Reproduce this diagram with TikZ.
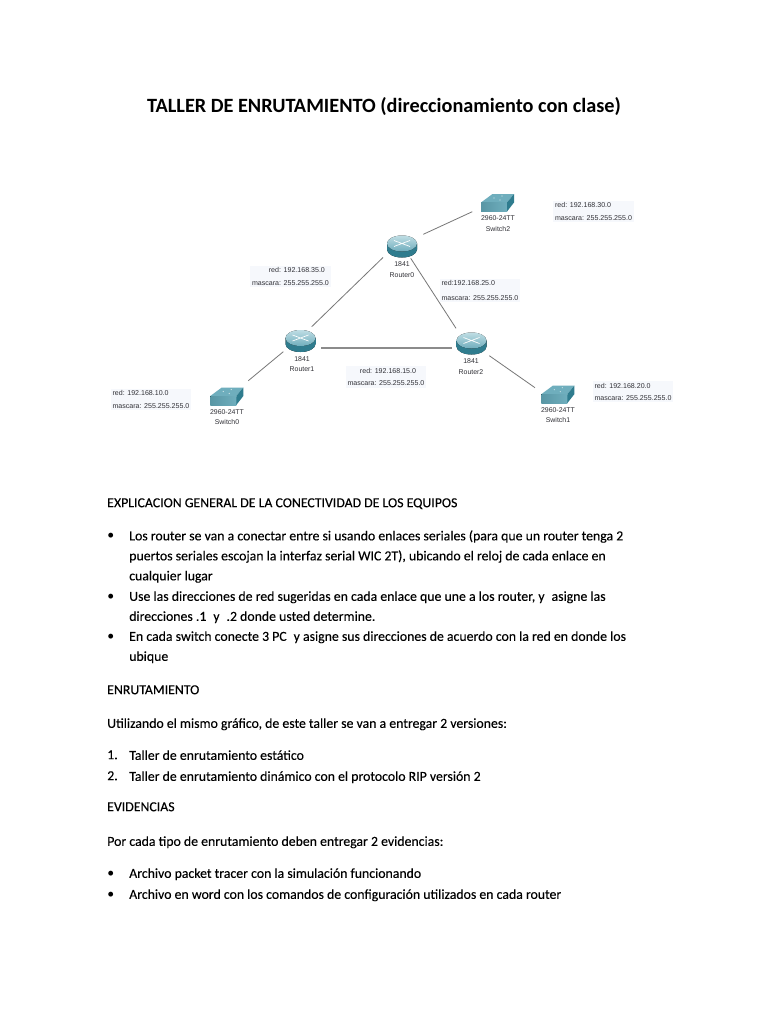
\documentclass[tikz,border=0pt]{standalone}
\usepackage{fontspec}
\setmainfont{Carlito}
\newfontfamily\bodyfont[FakeBold=0.15]{Carlito}
\newfontfamily\labelfont{Liberation Sans}
\definecolor{icondark}{HTML}{2F7C8E}
\definecolor{iconmid}{HTML}{6FAEBD}
\definecolor{iconlight}{HTML}{BFDDE4}
\definecolor{labelback}{HTML}{F6F8FC}
\definecolor{labeltext}{HTML}{303036}
\definecolor{linkgray}{HTML}{777777}
\tikzset{
    router/.style={minimum width=22.5pt,minimum height=16.5pt,inner sep=0pt,outer sep=0pt},
    switchbox/.style={minimum width=19.5pt,minimum height=6.75pt,inner sep=0pt,outer sep=0pt},
    devname/.style={font=\labelfont\fontsize{5.2}{7.9}\selectfont,text=labeltext,align=center,inner sep=0pt},
    netlabel/.style={font=\labelfont\fontsize{5.3}{9.2}\selectfont,text=labeltext,fill=labelback,inner sep=1.5pt},
    link/.style={draw=linkgray,line width=0.6pt},
    bodytext/.style={anchor=north west,align=left,inner sep=0pt,font=\bodyfont\fontsize{10.35}{15}\selectfont},
    bulletdot/.style={anchor=north west,inner sep=0pt,yshift=-2.5pt,font=\fontsize{10.35}{15}\selectfont}
}
\newcommand{\routericon}[1]{
    \begin{scope}[shift={(#1.center)}]
        \fill[left color=icondark,middle color=iconlight,right color=icondark] (-15,-3) -- (-15,3)
            .. controls (-15,7.4) and (-8.3,11) .. (0,11) .. controls (8.3,11) and (15,7.4) .. (15,3) -- (15,-3) -- cycle;
        \fill[top color=iconlight,bottom color=iconmid] (0,-3) ellipse [x radius=15,y radius=8];
        \draw[white,line width=0.5pt] (-8,-6) -- (8,0) (-8,0) -- (8,-6);
    \end{scope}
}
\newcommand{\switchicon}[1]{
    \begin{scope}[shift={(#1.center)}]
        \fill[iconmid] (-13,-4.5) -- (-1.5,-13) -- (20,-13) -- (13,-4.5) -- cycle;
        \fill[left color=icondark!80,right color=iconmid] (-13,-4.5) rectangle (13,4.5);
        \fill[icondark] (13,-4.5) -- (20,-13) -- (20,-4.5) -- (13,4.5) -- cycle;
        \fill[white!70!iconmid] (0,-9) circle [radius=0.6] (8,-11) circle [radius=0.6] (6,-7) circle [radius=0.6];
    \end{scope}
}
\begin{document}
\begin{tikzpicture}[x=0.75pt,y=-0.75pt]
    \useasboundingbox (0,0) rectangle (768,1024);
    \fill[white] (0,0) rectangle (768,1024);

    \node[font=\bfseries\fontsize{15.2}{18}\selectfont,inner sep=0pt] (title) at (384,107) {TALLER DE ENRUTAMIENTO (direccionamiento con clase)};

    % equipos
    \node[router] (router0) at (402,246.5) {};
    \node[router] (router1) at (300.5,341) {};
    \node[router] (router2) at (471.5,343.5) {};
    \node[switchbox] (switch0) at (223.3,400.5) {};
    \node[switchbox] (switch1) at (554.3,398.7) {};
    \node[switchbox] (switch2) at (494,207) {};
    \routericon{router0}
    \routericon{router1}
    \routericon{router2}
    \switchicon{switch0}
    \switchicon{switch1}
    \switchicon{switch2}

    \node[devname] (name0) at (402,269.5) {1841\\Router0};
    \node[devname] (name1) at (302,364) {1841\\Router1};
    \node[devname] (name2) at (471,366.5) {1841\\Router2};
    \node[devname] (name3) at (227,417) {2960-24TT\\Switch0};
    \node[devname] (name4) at (558,415) {2960-24TT\\Switch1};
    \node[devname] (name5) at (498,223.5) {2960-24TT\\Switch2};

    % enlaces
    \draw[link] ([shift={(11.2,-14.3)}]router1.center) -- ([shift={(-19,11)}]router0.center);
    \draw[link] ([shift={(8.7,11.8)}]router0.center) -- ([shift={(-15.5,-15.2)}]router2.center);
    \draw[draw=linkgray!85,line width=1.3pt] ([shift={(20.5,7.3)}]router1.center) -- ([shift={(-19.8,4.8)}]router2.center);
    \draw[link] ([shift={(-17.2,10.7)}]router1.center) -- ([shift={(25,-19.8)}]switch0.center);
    \draw[link] ([shift={(17.8,12.2)}]router2.center) -- ([shift={(-19.3,-11)}]switch1.center);
    \draw[link] ([shift={(21.3,-12.2)}]router0.center) -- ([shift={(-21.7,4.7)}]switch2.center);

    % redes
    \node[netlabel,align=right] (net35) at (290.5,276.5) {red: 192.168.35.0\hspace*{3pt}\\mascara: 255.255.255.0};
    \node[netlabel,align=left] (net25) at (480,290.5) {red:192.168.25.0\\[1.6pt]mascara: 255.255.255.0};
    \node[netlabel,align=center] (net15) at (386,377) {\hspace*{3pt}red: 192.168.15.0\\mascara: 255.255.255.0};
    \node[netlabel,align=left] (net10) at (151,399.5) {red: 192.168.10.0\\mascara: 255.255.255.0};
    \node[netlabel,align=left] (net20) at (633,391.7) {red: 192.168.20.0\\mascara: 255.255.255.0};
    \node[netlabel,align=left] (net30) at (593.5,211.5) {red: 192.168.30.0\\mascara: 255.255.255.0};

    % texto
    \node[bodytext] (head1) at (107,498) {EXPLICACION GENERAL DE LA CONECTIVIDAD DE LOS EQUIPOS};
    \node[bulletdot] (dot1) at (107,530) {\textbullet};
    \node[bodytext] (item1) at (129,530) {Los router se van a conectar entre si usando enlaces seriales (para que un router tenga 2\\puertos seriales escojan la interfaz serial WIC 2T), ubicando el reloj de cada enlace en\\cualquier lugar};
    \node[bulletdot] (dot2) at (107,591) {\textbullet};
    \node[bodytext] (item2) at (129,591) {Use las direcciones de red sugeridas en cada enlace que une a los router, y\; asigne las\\direcciones .1\; y\; .2 donde usted determine.};
    \node[bulletdot] (dot3) at (107,631) {\textbullet};
    \node[bodytext] (item3) at (129,631) {En cada switch conecte 3 PC\; y asigne sus direcciones de acuerdo con la red en donde los\\ubique};
    \node[bodytext] (head2) at (107,685) {ENRUTAMIENTO};
    \node[bodytext] (intro2) at (107,718) {Utilizando el mismo gráfico, de este taller se van a entregar 2 versiones:};
    \node[bodytext] (num1) at (107,750) {1.};
    \node[bodytext] (ver1) at (129,750) {Taller de enrutamiento estático};
    \node[bodytext] (num2) at (107,771) {2.};
    \node[bodytext] (ver2) at (129,771) {Taller de enrutamiento dinámico con el protocolo RIP versión 2};
    \node[bodytext] (head3) at (107,802) {EVIDENCIAS};
    \node[bodytext] (intro3) at (107,836) {Por cada tipo de enrutamiento deben entregar 2 evidencias:};
    \node[bulletdot] (dot4) at (107,868) {\textbullet};
    \node[bodytext] (ev1) at (129,868) {Archivo packet tracer con la simulación funcionando};
    \node[bulletdot] (dot5) at (107,889) {\textbullet};
    \node[bodytext] (ev2) at (129,889) {Archivo en word con los comandos de configuración utilizados en cada router};
\end{tikzpicture}
\end{document}
